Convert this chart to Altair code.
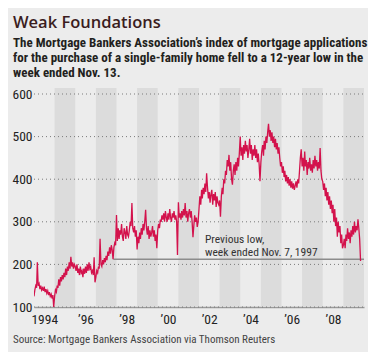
import json
import altair as alt
import pandas as pd

# ---------------- text ----------------
title_text = "Weak Foundations"
subtitle_lines = [
    "The Mortgage Bankers Association\u2019s index of mortgage applications",
    "for the purchase of a single-family home fell to a 12-year low in the",
    "week ended Nov. 13.",
]
source_text = "Source: Mortgage Bankers Association via Thomson Reuters"
note_lines = ["Previous low,", "week ended Nov. 7, 1997"]

# ---------------- axes ----------------
x_tick_years = [1994, 1996, 1998, 2000, 2002, 2004, 2006, 2008]
x_tick_labels = ["1994", "\u201996", "\u201998", "\u201900", "\u201902", "\u201904", "\u201906", "\u201908"]
y_ticks = [100, 200, 300, 400, 500, 600]
band_years = [1995, 1997, 1999, 2001, 2003, 2005, 2007, 2009]

prev_low_date = "1997-11-07"
prev_low_value = 212

# ---------------- series (semi-monthly readings) ----------------
v1994 = [125, 140, 150, 145, 205, 150, 155, 142, 150, 140, 145, 138, 148, 135, 142, 132, 138, 128, 135, 125, 130, 120, 128, 100]
v1995 = [125, 140, 135, 150, 145, 165, 150, 170, 160, 175, 165, 180, 170, 190, 175, 195, 185, 205, 190, 218, 195, 205, 190, 200]
v1996 = [195, 185, 200, 180, 190, 175, 195, 180, 185, 170, 190, 178, 195, 180, 200, 185, 205, 190, 195, 180, 185, 175, 217, 158]
v1997 = [170, 185, 180, 195, 190, 260, 200, 195, 210, 200, 215, 205, 220, 210, 230, 220, 240, 225, 245, 235, 212, 240, 250, 245]
v1998 = [316, 255, 285, 260, 280, 270, 295, 265, 255, 285, 275, 260, 290, 270, 265, 280, 300, 290, 344, 285, 275, 290, 265, 280]
v1999 = [235, 265, 250, 275, 260, 285, 270, 295, 280, 300, 328, 285, 270, 290, 260, 280, 265, 275, 290, 265, 280, 255, 270, 238]
v2000 = [280, 295, 285, 305, 300, 315, 305, 320, 300, 325, 310, 300, 320, 305, 330, 310, 300, 320, 310, 325, 305, 315, 300, 222]
v2001 = [346, 310, 320, 305, 325, 310, 330, 315, 344, 310, 325, 300, 320, 330, 310, 325, 300, 264, 290, 315, 300, 310, 288, 300]
v2002 = [330, 360, 340, 375, 355, 380, 365, 390, 370, 414, 380, 355, 370, 345, 365, 375, 340, 365, 350, 370, 335, 360, 345, 340]
v2003 = [350, 312, 360, 380, 365, 400, 390, 420, 410, 445, 430, 457, 420, 440, 400, 387, 420, 435, 410, 440, 420, 450, 430, 460]
v2004 = [500, 455, 475, 445, 480, 460, 490, 465, 480, 450, 470, 495, 460, 480, 445, 470, 455, 480, 450, 470, 440, 460, 435, 395]
v2005 = [440, 465, 480, 455, 490, 470, 500, 485, 510, 530, 500, 515, 490, 510, 485, 500, 475, 495, 470, 485, 460, 475, 450, 430]
v2006 = [440, 415, 430, 405, 420, 395, 410, 390, 405, 385, 400, 380, 395, 378, 390, 375, 385, 395, 380, 400, 390, 420, 450, 470]
v2007 = [430, 450, 420, 465, 430, 445, 410, 440, 425, 450, 420, 435, 415, 445, 425, 455, 430, 445, 420, 440, 425, 473, 420, 400]
v2008 = [395, 375, 390, 360, 380, 350, 370, 340, 360, 330, 350, 320, 340, 300, 330, 290, 310, 265, 300, 275, 290, 250, 270, 238]
v2009 = [245, 260, 238, 270, 255, 285, 260, 275, 250, 280, 265, 290, 270, 300, 275, 290, 280, 306, 285, 260, 208]

series = [
    (1994, v1994), (1995, v1995), (1996, v1996), (1997, v1997), (1998, v1998),
    (1999, v1999), (2000, v2000), (2001, v2001), (2002, v2002), (2003, v2003),
    (2004, v2004), (2005, v2005), (2006, v2006), (2007, v2007), (2008, v2008),
    (2009, v2009),
]

rows = []
for yr, vals in series:
    for i, v in enumerate(vals):
        rows.append({"date": f"{yr}-{i // 2 + 1:02d}-{1 if i % 2 == 0 else 16:02d}", "value": v})
df = pd.DataFrame(rows)

bands = pd.DataFrame({"start": [f"{y}-01-01" for y in band_years],
                      "end": [f"{y + 1}-01-01" for y in band_years]})
prev = pd.DataFrame({"start": [prev_low_date], "end": ["2010-01-01"], "value": [prev_low_value]})

FONT = "Liberation Sans Narrow, Roboto Condensed, Roboto, sans-serif"
W, H = 330, 213

xscale = alt.Scale(domain=["1994-01-01", "2010-01-01"], type="utc")
yscale = alt.Scale(domain=[100, 600], nice=False, zero=False)

label_expr = "[" + ",".join("'" + s + "'" for s in x_tick_labels) + "][floor((utcyear(datum.value)-1994)/2)]"

band_layer = alt.Chart(bands).mark_rect(color="#dcdcdc").encode(
    x=alt.X("start:T", scale=xscale,
            axis=alt.Axis(values=[alt.DateTime(year=y, month=7, date=1, utc=True) for y in x_tick_years],
                          labelExpr=label_expr, title=None, ticks=False, grid=False,
                          domain=True, domainColor="#9a9a9a", domainWidth=1.5,
                          labelFont=FONT, labelFontSize=13.5, labelColor="#222222",
                          labelPadding=5, labelAngle=0)),
    x2="end:T",
    y=alt.value(-6),
    y2=alt.value(H),
)

grid_layer = alt.Chart(pd.DataFrame({"v": y_ticks})).mark_rule(
    color="#7a7a7a", strokeDash=[1, 3], strokeWidth=1
).encode(
    y=alt.Y("v:Q", scale=yscale,
            axis=alt.Axis(values=y_ticks, title=None, ticks=False, grid=False, domain=False,
                          labelFont=FONT, labelFontSize=13.5, labelColor="#222222",
                          labelPadding=2)),
    x=alt.value(0), x2=alt.value(W),
)

prev_layer = alt.Chart(prev).mark_rule(color="#8c8c8c", strokeWidth=1.5).encode(
    x=alt.X("start:T", scale=xscale), x2="end:T",
    y=alt.Y("value:Q", scale=yscale),
)

line_layer = alt.Chart(df).mark_line(color="#d3124c", strokeWidth=1.3, clip=True).encode(
    x=alt.X("date:T", scale=xscale),
    y=alt.Y("value:Q", scale=yscale),
)

note_layer = alt.Chart(pd.DataFrame({"t": ["\n".join(note_lines)]})).mark_text(
    align="left", baseline="alphabetic", font=FONT, fontSize=11.5, color="#333333",
    lineBreak="\n", lineHeight=13,
).encode(text="t:N", x=alt.value(171), y=alt.value(149))

title_layer = alt.Chart(pd.DataFrame({"t": [title_text]})).mark_text(
    align="left", baseline="alphabetic", font="Open Sans", fontSize=16.5, fontWeight=600,
    color="#3b1d1e",
).encode(text="t:N", x=alt.value(-21), y=alt.value(-66))

sub_layer = alt.Chart(pd.DataFrame({"t": ["\n".join(subtitle_lines)]})).mark_text(
    align="left", baseline="alphabetic", font=FONT, fontSize=13, fontWeight="bold",
    color="#231f20", lineBreak="\n", lineHeight=15,
).encode(text="t:N", x=alt.value(-21), y=alt.value(-47))

source_layer = alt.Chart(pd.DataFrame({"t": [source_text]})).mark_text(
    align="left", baseline="alphabetic", font=FONT, fontSize=11, color="#444444",
).encode(text="t:N", x=alt.value(-21), y=alt.value(249))

chart = alt.layer(
    band_layer, grid_layer, prev_layer, line_layer, note_layer,
    title_layer, sub_layer, source_layer,
).properties(
    width=W, height=H,
    padding={"left": 26, "top": 86, "right": 4, "bottom": 45},
    autosize=alt.AutoSizeParams(type="none"),
    background="#ececec",
).configure_view(stroke=None)

chart.save("out.html", embed_options={"renderer": "svg", "actions": False})
